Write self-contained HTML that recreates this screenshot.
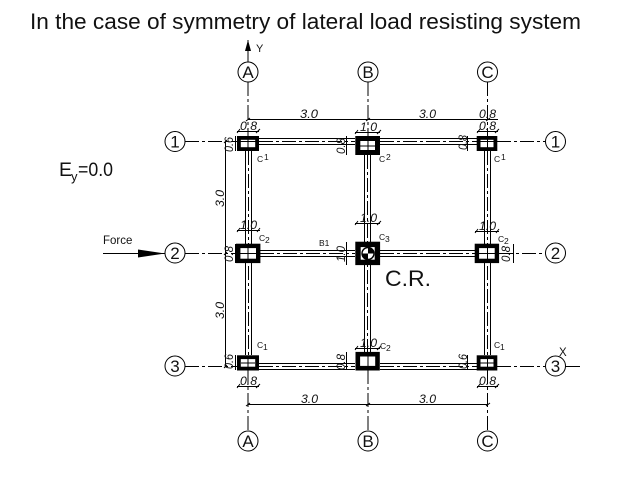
<!DOCTYPE html>
<html><head><meta charset="utf-8"><style>
html,body{margin:0;padding:0;background:#fff}
svg{display:block}
text{font-family:"Liberation Sans",sans-serif;fill:#111}
.d{font-size:12px;font-style:italic;fill:#222}
.c{font-size:8.5px;fill:#333}
.g{font-size:17px;text-anchor:middle;fill:#222}
.l{stroke:#000;stroke-width:1;fill:none}
.da{stroke:#000;stroke-width:1;fill:none;stroke-dasharray:14 3 3 3}
.k{stroke:#000;stroke-width:1;fill:none}
.col{fill:#fff;stroke:#000}
</style></head><body>
<svg width="638" height="479" viewBox="0 0 638 479" xmlns="http://www.w3.org/2000/svg">
<rect width="638" height="479" fill="#fff"/>
<text x="30" y="29" font-size="22" textLength="551" lengthAdjust="spacingAndGlyphs">In the case of symmetry of lateral load resisting system</text>
<text x="59" y="176" font-size="19" textLength="13" lengthAdjust="spacingAndGlyphs">E</text>
<text x="71" y="181" font-size="13">y</text>
<text x="78" y="176" font-size="19" textLength="35" lengthAdjust="spacingAndGlyphs">=0.0</text>
<text x="103" y="244" font-size="11.5" fill="#222">Force</text>
<text x="385" y="286" font-size="22.5" textLength="46" lengthAdjust="spacingAndGlyphs">C.R.</text>

<!-- axes / grid lines -->
<g class="da">
<path d="M248 82V136M368 82V136M487.5 82V136"/>
<path d="M248 370V431M368 370V431M487.5 370V431"/>
<path d="M185 141.5H237M497 141.5H545"/>
<path d="M185 253.5H236M499 253.5H545"/>
<path d="M185 366.5H237M497 366.5H545"/>
<path d="M248.5 151V355M367.5 155V352M487.5 151V355"/>
<path d="M259 141.5H355M380 141.5H477M260 253.5H355M380 253.5H475M259 366.5H355M380 366.5H477"/>
</g>
<path class="l" d="M565 366.5H580"/>
<path class="l" d="M248 40V62"/>
<path d="M248 40L245 51H251Z" fill="#000"/>
<path class="l" d="M103 253.5H165"/>
<path d="M138 249.5L165 253.5L138 257.5Z" fill="#000"/>
<text x="256" y="52" font-size="11" fill="#222">Y</text>
<text x="559" y="356" font-size="11.5" fill="#222">X</text>

<!-- beams -->
<g class="k">
<path d="M259 138.5H355M259 144.5H355M380 138.5H477M380 144.5H477"/>
<path d="M260 250.5H355M260 256.5H355M380 250.5H475M380 256.5H475"/>
<path d="M259 363.5H355M259 369.5H355M380 363.5H477M380 369.5H477"/>
<path d="M245.5 151V244M251.5 151V244M245.5 263V355M251.5 263V355"/>
<path d="M364.5 155V242M370.5 155V242M364.5 265V352M370.5 265V352"/>
<path d="M484.5 151V244M490.5 151V244M484.5 263V355M490.5 263V355"/>
</g>

<!-- columns -->
<g class="col">
<rect x="238.9" y="137.9" width="18.2" height="11.2" stroke-width="3.8"/>
<rect x="357.8" y="138.5" width="19.7" height="14" stroke-width="5"/>
<rect x="478.6" y="137.9" width="16.8" height="11.2" stroke-width="3.8"/>
<rect x="238.2" y="245.9" width="20" height="15" stroke-width="4.4"/>
<rect x="358" y="244.4" width="19.4" height="18" stroke-width="5.4"/>
<rect x="476.9" y="245.9" width="20" height="15" stroke-width="4.4"/>
<rect x="238.9" y="357.2" width="18.2" height="11.4" stroke-width="3.8"/>
<rect x="357.8" y="354.2" width="19.7" height="14" stroke-width="4.6"/>
<rect x="478.6" y="357.2" width="16.8" height="11.4" stroke-width="3.8"/>
</g>
<g class="l">
<path d="M248 139V149M240 141.5H256M368 140V151M360 146H376M487.5 139V149M480 141.5H495"/>
<path d="M248 247V260M240 253.5H257M487.5 247V260M479 253.5H496"/>
<path d="M248 358V368M368 356V367M487.5 358V368M241 363H255M480 363H494"/>
</g>
<!-- centre of rigidity -->
<circle cx="368" cy="253.5" r="6" fill="#fff" stroke="#000" stroke-width="1.4"/>
<path d="M368 253.5V247.5A6 6 0 0 1 374 253.5ZM368 253.5V259.5A6 6 0 0 1 362 253.5Z" fill="#000"/>

<!-- dimension lines -->
<g class="l">
<path d="M248 119.5H498M248 404.5H488M225.5 141.5V366"/>
<path d="M237 131.5H259M355 132.5H380M477 131.5H498M477 119.5H498"/>
<path d="M237 386.5H259M477 386.5H498"/>
<path d="M237 230.5H260M355 223.5H380M475 231.5H499M355 348.5H380"/>
<path d="M235.5 136V151M235.5 244V263M235.5 355V370"/>
<path d="M346.5 136V155M346.5 242V265M346.5 352V370"/>
<path d="M467.5 136V151M467.5 355V370M513.5 244V263"/>
</g>
<g class="l">
<path d="M237 133L240 129M256 133L260 129M355 134L358 130M377 134L381 130M477 133L480 129M495 133L499 129"/>
<path d="M237 388L240 384M256 388L260 384M477 388L480 384M495 388L499 384"/>
<path d="M237 232L240 228M257 232L260 228M355 225L358 221M377 225L381 221M475 233L478 229M496 233L499 229M355 350L358 346M377 350L381 346"/>
<path d="M246 121L250 118M366 121L370 118M486 121L490 118M246 406L250 403M366 406L370 403M486 406L490 403"/>
<path d="M224 143L227 140M224 255L227 252M224 368L227 365"/>
</g>

<!-- dimension text -->
<g class="d">
<text x="300" y="118" textLength="18" lengthAdjust="spacingAndGlyphs">3.0</text>
<text x="419" y="118" textLength="17" lengthAdjust="spacingAndGlyphs">3.0</text>
<text x="301" y="403" textLength="17" lengthAdjust="spacingAndGlyphs">3.0</text>
<text x="419" y="403" textLength="17" lengthAdjust="spacingAndGlyphs">3.0</text>
<text x="240" y="130" textLength="17" lengthAdjust="spacingAndGlyphs">0.8</text>
<text x="360" y="131" textLength="17" lengthAdjust="spacingAndGlyphs">1.0</text>
<text x="479" y="118" textLength="17" lengthAdjust="spacingAndGlyphs">0.8</text>
<text x="479" y="130" textLength="17" lengthAdjust="spacingAndGlyphs">0.8</text>
<text x="240" y="229" textLength="17" lengthAdjust="spacingAndGlyphs">1.0</text>
<text x="360" y="222" textLength="17" lengthAdjust="spacingAndGlyphs">1.0</text>
<text x="479" y="230" textLength="17" lengthAdjust="spacingAndGlyphs">1.0</text>
<text x="360" y="347" textLength="17" lengthAdjust="spacingAndGlyphs">1.0</text>
<text x="240" y="385" textLength="17" lengthAdjust="spacingAndGlyphs">0.8</text>
<text x="479" y="385" textLength="17" lengthAdjust="spacingAndGlyphs">0.8</text>
<text transform="translate(224 207) rotate(-90)" textLength="17" lengthAdjust="spacingAndGlyphs">3.0</text>
<text transform="translate(224 319) rotate(-90)" textLength="17" lengthAdjust="spacingAndGlyphs">3.0</text>
<text transform="translate(233 152) rotate(-90)" textLength="15" lengthAdjust="spacingAndGlyphs">0.6</text>
<text transform="translate(233 262) rotate(-90)" textLength="16" lengthAdjust="spacingAndGlyphs">0.8</text>
<text transform="translate(233 369) rotate(-90)" textLength="15" lengthAdjust="spacingAndGlyphs">0.6</text>
<text transform="translate(345 154) rotate(-90)" textLength="16" lengthAdjust="spacingAndGlyphs">0.8</text>
<text transform="translate(345 262) rotate(-90)" textLength="16" lengthAdjust="spacingAndGlyphs">1.0</text>
<text transform="translate(345 370) rotate(-90)" textLength="16" lengthAdjust="spacingAndGlyphs">0.8</text>
<text transform="translate(467 150) rotate(-90)" textLength="15" lengthAdjust="spacingAndGlyphs">0.8</text>
<text transform="translate(467 369) rotate(-90)" textLength="15" lengthAdjust="spacingAndGlyphs">0.6</text>
<text transform="translate(510 262) rotate(-90)" textLength="16" lengthAdjust="spacingAndGlyphs">0.8</text>
</g>

<!-- labels -->
<g class="c">
<text x="257" y="162">C</text><text x="264" y="160">1</text>
<text x="379" y="162">C</text><text x="386" y="160">2</text>
<text x="494" y="162">C</text><text x="501" y="160">1</text>
<text x="259" y="241">C</text><text x="265" y="243">2</text>
<text x="379" y="240">C</text><text x="385" y="242">3</text>
<text x="498" y="242">C</text><text x="504" y="244">2</text>
<text x="319" y="246">B1</text>
<text x="257" y="348">C</text><text x="263" y="350">1</text>
<text x="380" y="349">C</text><text x="386" y="351">2</text>
<text x="494" y="348">C</text><text x="500" y="350">1</text>
</g>

<!-- grid bubbles -->
<g fill="#fff" stroke="#000" stroke-width="1">
<circle cx="248" cy="72" r="10"/><circle cx="368" cy="72" r="10"/><circle cx="487.5" cy="72" r="10"/>
<circle cx="248" cy="441" r="10"/><circle cx="368" cy="441" r="10"/><circle cx="487.5" cy="441" r="10"/>
<circle cx="175" cy="141.5" r="10"/><circle cx="175" cy="253" r="10"/><circle cx="175" cy="366" r="10"/>
<circle cx="555.5" cy="141.5" r="10"/><circle cx="555.5" cy="253" r="10"/><circle cx="555.5" cy="366" r="10"/>
</g>
<g class="g">
<text x="248" y="78">A</text><text x="368" y="78">B</text><text x="487.5" y="78">C</text>
<text x="248" y="447">A</text><text x="368" y="447">B</text><text x="487.5" y="447">C</text>
<text x="175" y="147.5">1</text><text x="175" y="259">2</text><text x="175" y="372">3</text>
<text x="555.5" y="147.5">1</text><text x="555.5" y="259">2</text><text x="555.5" y="372">3</text>
</g>
</svg>
</body></html>
